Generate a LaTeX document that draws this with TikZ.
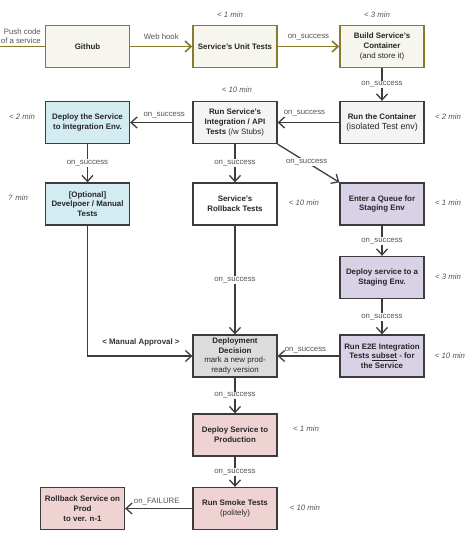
\documentclass[tikz,border=0pt]{standalone}
\usepackage{fontspec}
\setmainfont{Liberation Sans}
\usetikzlibrary{arrows.meta}
\definecolor{olive}{HTML}{8A7A2E}
\definecolor{cream}{HTML}{F6F5EE}
\definecolor{boxgray}{HTML}{3C3C3C}
\definecolor{lblue}{HTML}{D3ECF1}
\definecolor{lpurple}{HTML}{D9D1E5}
\definecolor{dgray}{HTML}{DCDCDC}
\definecolor{lpink}{HTML}{EFD3D3}
\definecolor{lwhite}{HTML}{F4F4F4}
\definecolor{txtgray}{HTML}{555555}
\tikzset{
  box/.style={draw=boxgray, line width=1.3pt, minimum width=84pt, minimum height=42pt, align=center, inner sep=1pt, font=\fontsize{7.9}{9.8}\selectfont\bfseries, text=black!85},
  obox/.style={box, draw=olive, line width=1.6pt, fill=cream},
  conn/.style={draw=boxgray, line width=1.3pt, -{Straight Barb[length=6pt,width=11pt,line width=1.3pt]}},
  oconn/.style={draw=olive, line width=1.6pt, -{Straight Barb[length=6pt,width=11pt,line width=1.6pt]}},
  lbl/.style={font=\fontsize{7.8}{9.2}\selectfont, text=txtgray, inner sep=1pt},
  tm/.style={font=\fontsize{7.8}{9}\selectfont\itshape, text=txtgray, inner sep=1pt},
}
\begin{document}
\begin{tikzpicture}[x=1pt,y=-1pt]
\useasboundingbox (0,0) rectangle (474,537);
\fill[white] (0,0) rectangle (474,537);
% row 1
\node[obox] (gh) at (87.5,46.5) {Github};
\node[obox] (ut) at (235,46.5) {Service's Unit Tests};
\node[obox] (bc) at (382,46.5) {Build Service's\\Container\\\mdseries (and store it)};
% row 2
\node[box, fill=lblue] (di) at (87.5,122.5) {Deploy the Service\\to Integration Env.};
\node[box, fill=lwhite] (it) at (235,122.5) {Run Service's\\Integration / API\\Tests \mdseries(/w Stubs)};
\node[box, fill=lwhite] (rc) at (382,122.5) {Run the Container\\\mdseries\fontsize{8.8}{10}\selectfont(isolated Test env)};
% row 3
\node[box, fill=lblue] (op) at (87.5,204) {[Optional]\\Develpoer / Manual\\Tests};
\node[box, fill=white] (rt) at (235,204) {Service's\\Rollback Tests};
\node[box, fill=lpurple] (qu) at (382,204) {Enter a Queue for\\Staging Env};
% staging
\node[box, fill=lpurple] (st) at (382,277.5) {Deploy service to a\\Staging Env.};
% decision row
\node[box, fill=dgray] (dd) at (235,356) {Deployment\\Decision\\\mdseries mark a new prod-\\\mdseries ready version};
\node[box, fill=lpurple] (e2e) at (382,356) {Run E2E Integration\\Tests \underline{subset} - for\\the Service};
% prod
\node[box, fill=lpink] (dp) at (235,435) {Deploy Service to\\Production};
\node[box, fill=lpink] (sm) at (235,508.5) {Run Smoke Tests\\\mdseries (politely)};
\node[box, fill=lpink] (rp) at (82.5,508.5) {Rollback Service on\\Prod\\to ver. n-1};
% push code
\coordinate (push) at (0,46.5);
\node[lbl, anchor=east, align=right] (pushl) at (42,36) {Push code\\of a service};
\draw[olive, line width=1.6pt] (push) -- (gh.west);
% connectors
\draw[oconn] (gh) -- node[lbl, above=5pt] {Web hook} (ut);
\draw[oconn] (ut) -- node[lbl, above=5pt] {on\_success} (bc);
\draw[conn] (bc) -- node[lbl, fill=white] {on\_success} (rc);
\draw[conn] (rc) -- node[lbl, above=5pt, xshift=-4pt] {on\_success} (it);
\draw[conn] (it) -- node[lbl, above=3pt, xshift=3pt] {on\_success} (di);
\draw[conn] (di) -- node[lbl, fill=white] {on\_success} (op);
\draw[conn] (it) -- node[lbl, fill=white] {on\_success} (rt);
\draw[conn] (it.south east) -- node[lbl, fill=white, pos=0.47] {on\_success} (qu.north west);
\draw[conn] (qu) -- node[lbl, fill=white] {on\_success} (st);
\draw[conn] (st) -- node[lbl, fill=white] {on\_success} (e2e);
\draw[conn] (rt) -- node[lbl, fill=white] {on\_success} (dd);
\draw[conn] (e2e) -- node[lbl, above=1pt, xshift=-3pt] {on\_success} (dd);
\draw[conn] (op.south) |- node[pos=0.755, above=8pt, font=\fontsize{7.9}{9}\selectfont\bfseries, text=black!80, inner sep=1pt] {< Manual Approval >} (dd.west);
\draw[conn] (dd) -- node[lbl, fill=white] {on\_success} (dp);
\draw[conn] (dp) -- node[lbl, fill=white] {on\_success} (sm);
\draw[conn] (sm) -- node[lbl, above=2pt, xshift=-2pt] {on\_FAILURE} (rp);
% timings
\node[tm] (t1) at (230,15) {< 1 min};
\node[tm] (t2) at (377,15) {< 3 min};
\node[tm] (t3) at (237,90) {< 10 min};
\node[tm] (t4) at (22,117) {< 2 min};
\node[tm] (t5) at (448,117) {< 2 min};
\node[tm] (t6) at (18,198) {? min};
\node[tm] (t7) at (304,203) {< 10 min};
\node[tm] (t8) at (448,203) {< 1 min};
\node[tm] (t9) at (448,277) {< 3 min};
\node[tm] (t10) at (450,356) {< 10 min};
\node[tm] (t11) at (306,429) {< 1 min};
\node[tm] (t12) at (305,508) {< 10 min};
\end{tikzpicture}
\end{document}
